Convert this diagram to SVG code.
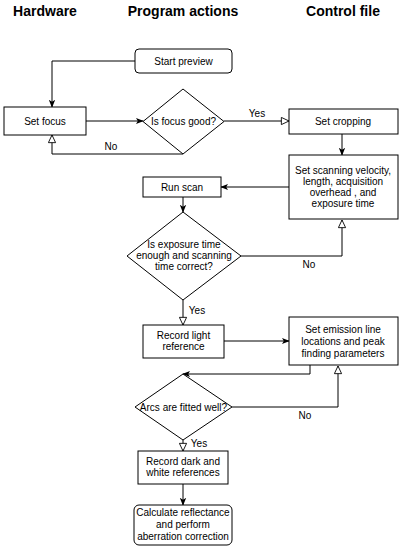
<svg xmlns="http://www.w3.org/2000/svg" width="400" height="550" viewBox="0 0 400 550">
<style>
.box{fill:#fff;stroke:#000;stroke-width:1}
.t{font-family:"Liberation Sans",Arial,sans-serif;font-size:10px;fill:#000;text-anchor:middle}
.h{font-family:"Liberation Sans",Arial,sans-serif;font-size:14px;font-weight:bold;fill:#000;text-anchor:middle}
.c{fill:none;stroke:#000;stroke-width:1}
.f{marker-end:url(#af)}
.o{marker-end:url(#ao)}
</style>
<defs>
<marker id="af" viewBox="0 0 10 10" refX="9" refY="5" markerWidth="8" markerHeight="8" markerUnits="userSpaceOnUse" orient="auto">
<path d="M0,1 L10,5 L0,9 L2.5,5 z" fill="#000"/>
</marker>
<marker id="ao" viewBox="0 0 10 10" refX="9.5" refY="5" markerWidth="9" markerHeight="9" markerUnits="userSpaceOnUse" orient="auto">
<path d="M1,1 L9.5,5 L1,9 z" fill="#fff" stroke="#000" stroke-width="1"/>
</marker>
</defs>
<rect width="400" height="550" fill="#fff"/>
<text class="h" x="45" y="16">Hardware</text>
<text class="h" x="183" y="16">Program actions</text>
<text class="h" x="343" y="16">Control file</text>

<g id="connectors">
<path class="c f" d="M135,61 H52 V107"/>
<path class="c f" d="M86,121 H143"/>
<path class="c o" d="M224,121 H289"/>
<path class="c o" d="M183,154 H52 V135"/>
<path class="c f" d="M342,134 V155"/>
<path class="c f" d="M289,187 H221"/>
<path class="c f" d="M183,197 V212"/>
<path class="c o" d="M241,256 H342 V220"/>
<path class="c o" d="M183,300 V325"/>
<path class="c f" d="M224,341 H289"/>
<path class="c f" d="M310,365 V374 H183"/>
<path class="c o" d="M232,407 H338 V366"/>
<path class="c o" d="M183,440 V451"/>
<path class="c f" d="M183,484 V505"/>
<text class="t" x="257" y="117">Yes</text>
<text class="t" x="111" y="150">No</text>
<text class="t" x="309" y="268">No</text>
<text class="t" x="197" y="314">Yes</text>
<text class="t" x="305" y="419">No</text>
<text class="t" x="199" y="447">Yes</text>
</g>

<g id="start-preview">
<rect class="box" x="135" y="49" width="97" height="24" rx="4"/>
<text class="t" x="183.5" y="64.5">Start preview</text>
</g>
<g id="set-focus">
<rect class="box" x="4" y="107" width="82" height="28"/>
<text class="t" x="45" y="124.5">Set focus</text>
</g>
<g id="focus-good">
<path class="box" d="M183,89 L224,121.5 L183,154 L143,121.5 z"/>
<text class="t" x="183.5" y="125">Is focus good?</text>
</g>
<g id="set-cropping">
<rect class="box" x="289" y="109" width="109" height="25"/>
<text class="t" x="343" y="125">Set cropping</text>
</g>
<g id="set-scanning">
<rect class="box" x="289" y="155" width="109" height="64"/>
<text class="t" x="343" y="174">Set scanning velocity,</text>
<text class="t" x="343" y="185">length, acquisition</text>
<text class="t" x="343" y="196">overhead , and</text>
<text class="t" x="343" y="207">exposure time</text>
</g>
<g id="run-scan">
<rect class="box" x="143" y="177" width="78" height="20"/>
<text class="t" x="182" y="190.5">Run scan</text>
</g>
<g id="exposure-check">
<path class="box" d="M183,212 L241,256 L183,300 L127,256 z"/>
<text class="t" x="184" y="248">Is exposure time</text>
<text class="t" x="184" y="259">enough and scanning</text>
<text class="t" x="184" y="270">time correct?</text>
</g>
<g id="record-light">
<rect class="box" x="143" y="325" width="81" height="33"/>
<text class="t" x="183.5" y="339">Record light</text>
<text class="t" x="183.5" y="350">reference</text>
</g>
<g id="set-emission">
<rect class="box" x="289" y="317" width="109" height="48"/>
<text class="t" x="343" y="333">Set emission line</text>
<text class="t" x="343" y="345">locations and peak</text>
<text class="t" x="343" y="357">finding parameters</text>
</g>
<g id="arcs-check">
<path class="box" d="M183,374 L232,407 L183,440 L135,407 z"/>
<text class="t" x="183.5" y="410.5">Arcs are fitted well?</text>
</g>
<g id="record-dark">
<rect class="box" x="138" y="451" width="90" height="33"/>
<text class="t" x="183" y="465">Record dark and</text>
<text class="t" x="183" y="476">white references</text>
</g>
<g id="calculate">
<rect class="box" x="134" y="505" width="98" height="40" rx="5"/>
<text class="t" x="183" y="516">Calculate reflectance</text>
<text class="t" x="183" y="528">and perform</text>
<text class="t" x="183" y="540">aberration correction</text>
</g>
</svg>
